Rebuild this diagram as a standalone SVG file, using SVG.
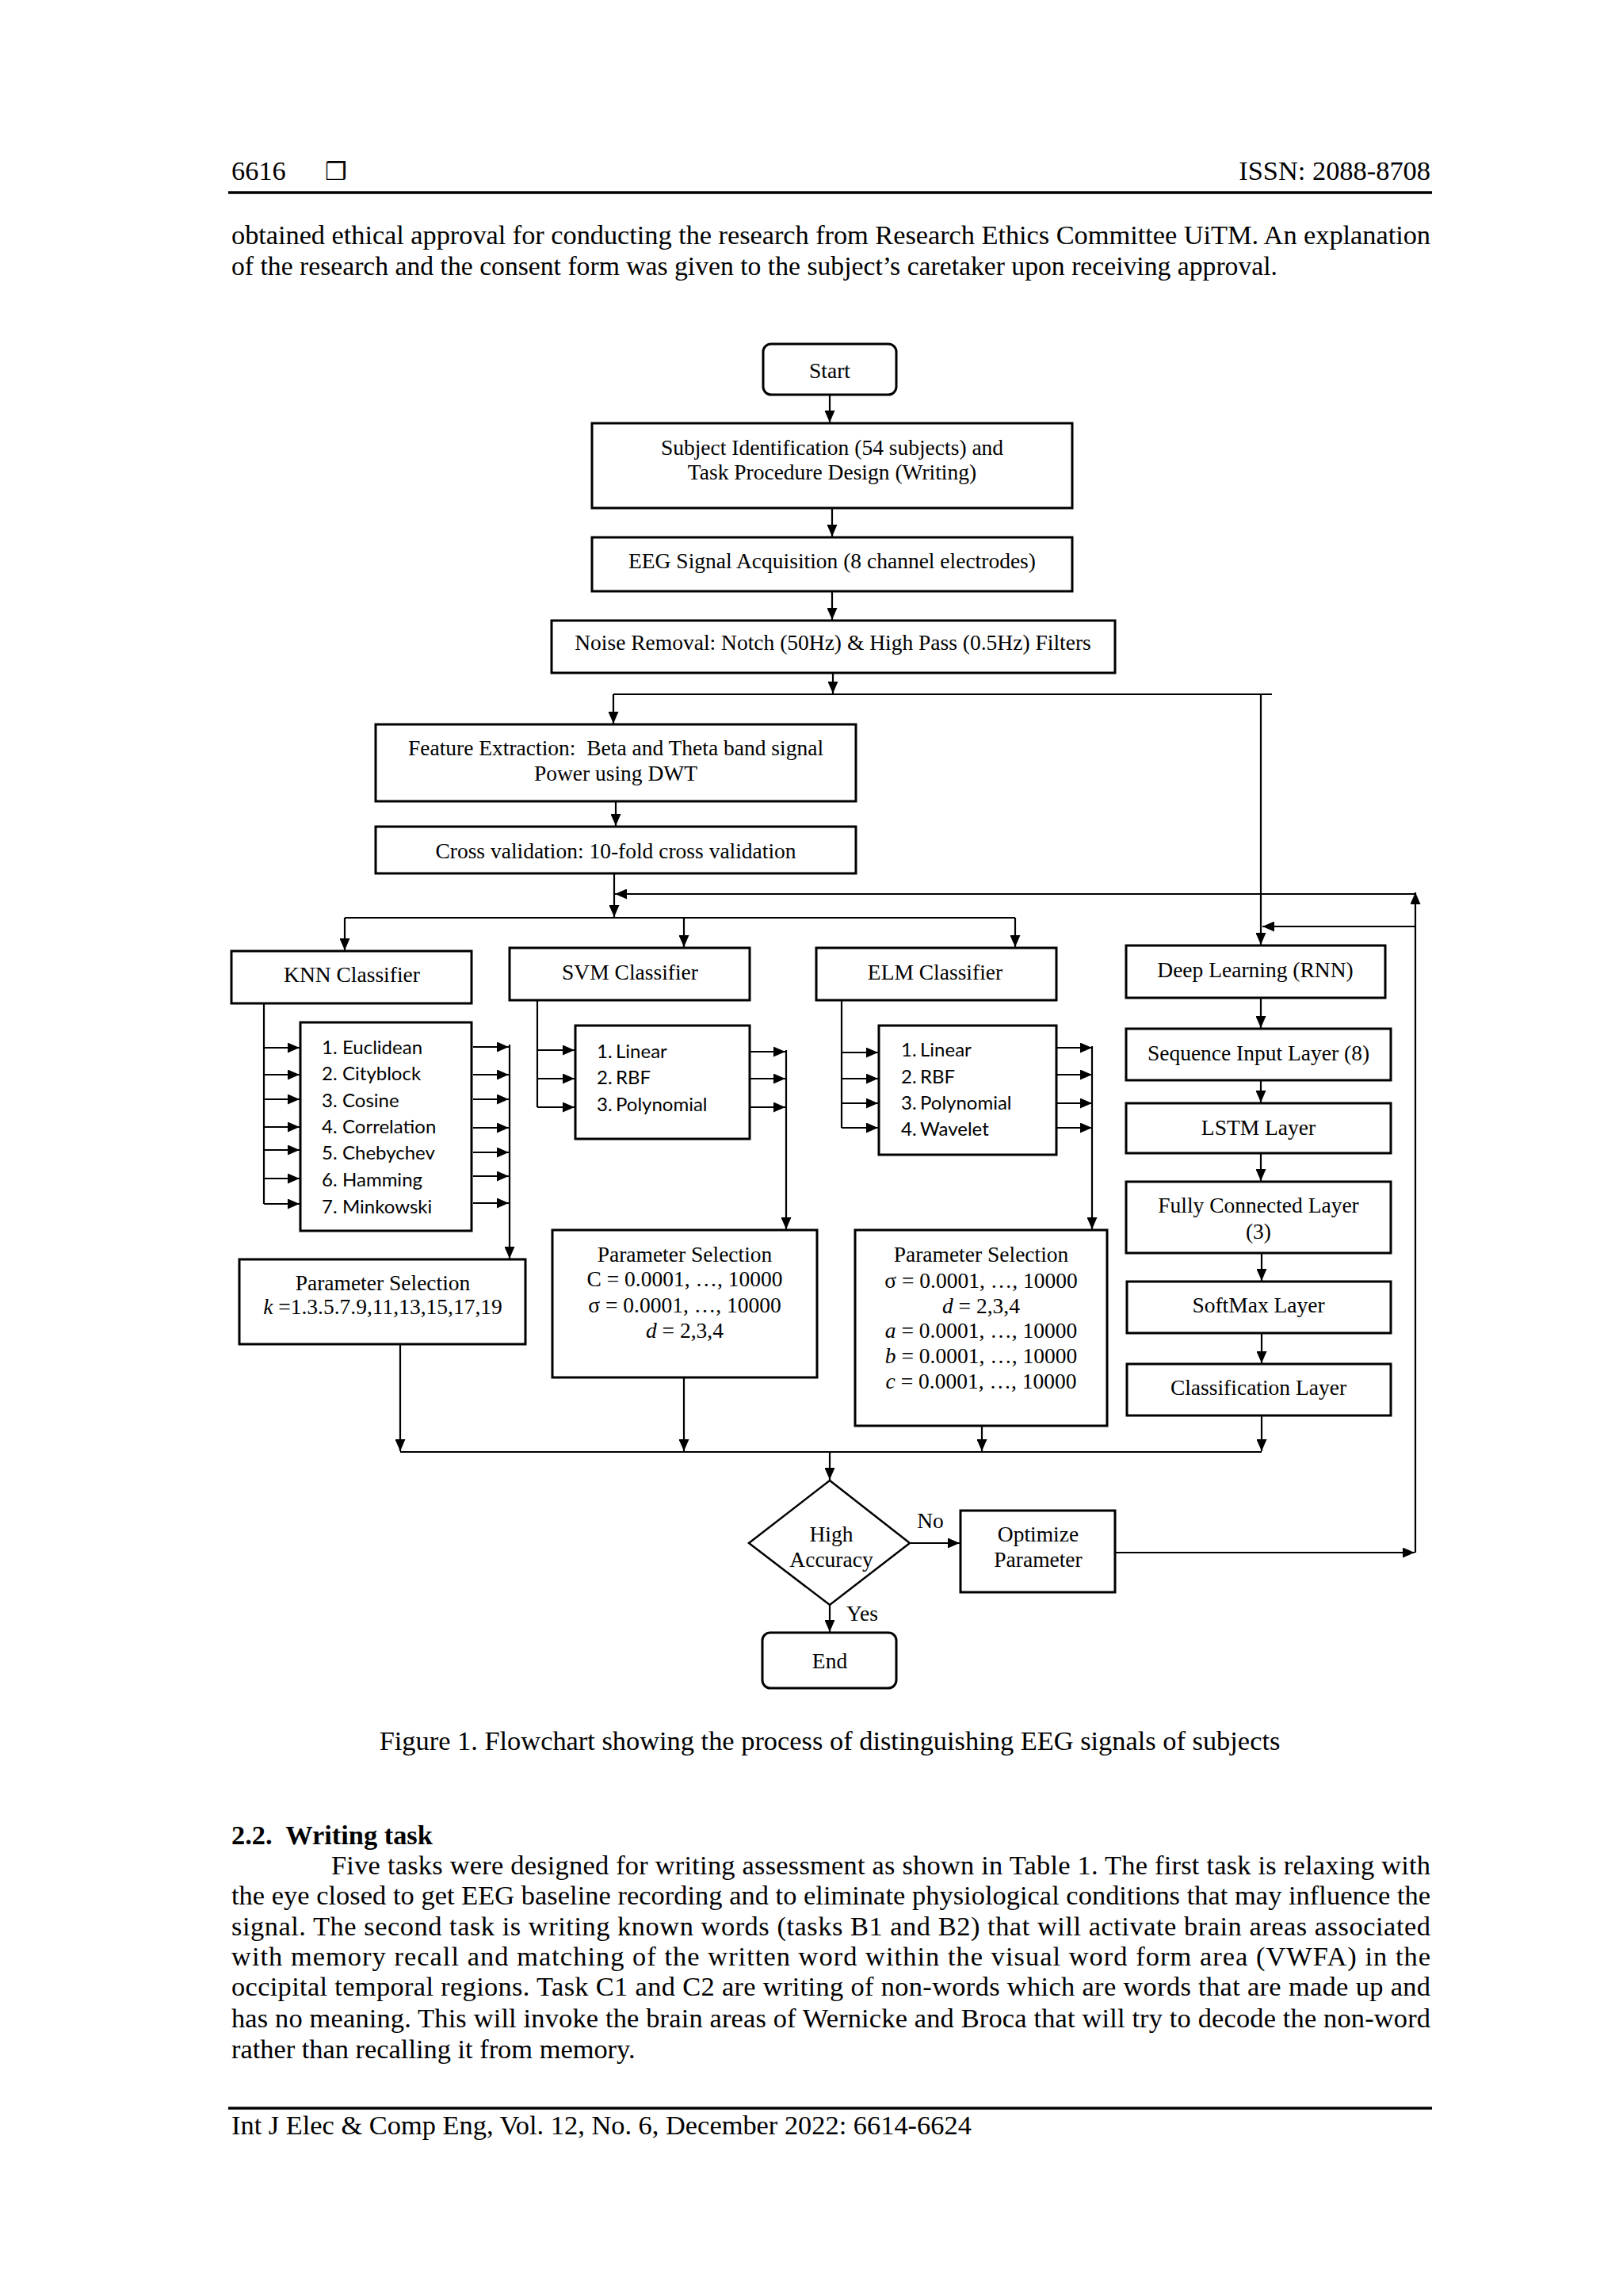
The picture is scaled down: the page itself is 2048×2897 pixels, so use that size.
<svg xmlns="http://www.w3.org/2000/svg" width="2048" height="2897" viewBox="0 0 2048 2897">
<defs>
<marker id="ah" markerUnits="userSpaceOnUse" markerWidth="15" markerHeight="13" refX="15" refY="6.5" orient="auto">
<path d="M0,0 L15,6.5 L0,13 z" fill="#000"/>
</marker>
</defs>
<style>
.pg{font-family:"Liberation Serif","Times New Roman",serif;font-size:34.4px;fill:#000}
.d{font-family:"Liberation Serif","Times New Roman",serif;font-size:27.5px;fill:#000;text-anchor:middle}
.l{font-family:Lato,"Liberation Sans",sans-serif;font-size:24px;fill:#000}
.b{fill:#fff;stroke:#000;stroke-width:3}
.c{fill:none;stroke:#000;stroke-width:2.2}
.a{fill:none;stroke:#000;stroke-width:2.2;marker-end:url(#ah)}
.rule{stroke:#000;stroke-width:3.5}
</style>
<rect width="2048" height="2897" fill="#fff"/>

<!-- page header -->
<text class="pg" x="292" y="227">6616</text>
<text x="410" y="227" style="font-family:'DejaVu Sans',sans-serif;font-size:31px;font-weight:bold">❒</text>
<text class="pg" x="1805" y="227" text-anchor="end">ISSN: 2088-8708</text>
<line class="rule" x1="288" y1="243" x2="1807" y2="243"/>
<text class="pg" x="292" y="308" textLength="1513" lengthAdjust="spacing">obtained ethical approval for conducting the research from Research Ethics Committee UiTM. An explanation</text>
<text class="pg" x="292" y="347" textLength="1320" lengthAdjust="spacingAndGlyphs">of the research and the consent form was given to the subject’s caretaker upon receiving approval.</text>

<!-- connectors -->
<g id="connectors">
<line class="a" x1="1047" y1="498" x2="1047" y2="533"/>
<line class="a" x1="1050" y1="641" x2="1050" y2="677"/>
<line class="a" x1="1050" y1="746" x2="1050" y2="782"/>
<line class="a" x1="1051" y1="849" x2="1051" y2="875"/>
<line class="c" x1="774" y1="876" x2="1605" y2="876"/>
<line class="a" x1="774" y1="876" x2="774" y2="913"/>
<line class="a" x1="777" y1="1011" x2="777" y2="1042"/>
<line class="a" x1="1591" y1="876" x2="1591" y2="1192"/>
<line class="a" x1="775" y1="1102" x2="775" y2="1157"/>
<line class="c" x1="435" y1="1158" x2="1281" y2="1158"/>
<line class="a" x1="435" y1="1158" x2="435" y2="1199"/>
<line class="a" x1="863" y1="1158" x2="863" y2="1195"/>
<line class="a" x1="1281" y1="1158" x2="1281" y2="1195"/>
<line class="a" x1="1786" y1="1128" x2="776" y2="1128"/>
<line class="a" x1="1786" y1="1169" x2="1593" y2="1169"/>
<line class="a" x1="1786" y1="1959" x2="1786" y2="1126"/>
<line class="a" x1="1407" y1="1959" x2="1785" y2="1959"/>

<!-- KNN -->
<polyline class="c" points="333,1266 333,1519"/>
<line class="a" x1="333" y1="1322" x2="378" y2="1322"/>
<line class="a" x1="333" y1="1356" x2="378" y2="1356"/>
<line class="a" x1="333" y1="1387" x2="378" y2="1387"/>
<line class="a" x1="333" y1="1422" x2="378" y2="1422"/>
<line class="a" x1="333" y1="1451" x2="378" y2="1451"/>
<line class="a" x1="333" y1="1487" x2="378" y2="1487"/>
<line class="a" x1="333" y1="1519" x2="378" y2="1519"/>
<line class="a" x1="597" y1="1321" x2="642" y2="1321"/>
<line class="a" x1="597" y1="1356" x2="642" y2="1356"/>
<line class="a" x1="597" y1="1387" x2="642" y2="1387"/>
<line class="a" x1="597" y1="1423" x2="642" y2="1423"/>
<line class="a" x1="597" y1="1454" x2="642" y2="1454"/>
<line class="a" x1="597" y1="1484" x2="642" y2="1484"/>
<line class="a" x1="597" y1="1518" x2="642" y2="1518"/>
<line class="a" x1="643" y1="1318" x2="643" y2="1588"/>

<!-- SVM -->
<polyline class="c" points="678,1262 678,1397"/>
<line class="a" x1="678" y1="1325" x2="725" y2="1325"/>
<line class="a" x1="678" y1="1361" x2="725" y2="1361"/>
<line class="a" x1="678" y1="1397" x2="725" y2="1397"/>
<line class="a" x1="947" y1="1327" x2="991" y2="1327"/>
<line class="a" x1="947" y1="1361" x2="991" y2="1361"/>
<line class="a" x1="947" y1="1397" x2="991" y2="1397"/>
<line class="a" x1="992" y1="1325" x2="992" y2="1551"/>

<!-- ELM -->
<polyline class="c" points="1062,1262 1062,1423"/>
<line class="a" x1="1062" y1="1328" x2="1108" y2="1328"/>
<line class="a" x1="1062" y1="1361" x2="1108" y2="1361"/>
<line class="a" x1="1062" y1="1392" x2="1108" y2="1392"/>
<line class="a" x1="1062" y1="1423" x2="1108" y2="1423"/>
<line class="a" x1="1334" y1="1322" x2="1378" y2="1322"/>
<line class="a" x1="1334" y1="1356" x2="1378" y2="1356"/>
<line class="a" x1="1334" y1="1392" x2="1378" y2="1392"/>
<line class="a" x1="1334" y1="1423" x2="1378" y2="1423"/>
<line class="a" x1="1378" y1="1320" x2="1378" y2="1551"/>

<!-- RNN chain -->
<line class="a" x1="1591" y1="1259" x2="1591" y2="1297"/>
<line class="a" x1="1591" y1="1363" x2="1591" y2="1391"/>
<line class="a" x1="1591" y1="1455" x2="1591" y2="1490"/>
<line class="a" x1="1592" y1="1581" x2="1592" y2="1616"/>
<line class="a" x1="1592" y1="1682" x2="1592" y2="1720"/>

<!-- merge -->
<line class="a" x1="505" y1="1696" x2="505" y2="1831"/>
<line class="a" x1="863" y1="1738" x2="863" y2="1831"/>
<line class="a" x1="1239" y1="1799" x2="1239" y2="1831"/>
<line class="a" x1="1592" y1="1786" x2="1592" y2="1831"/>
<line class="c" x1="505" y1="1832" x2="1592" y2="1832"/>
<line class="a" x1="1047" y1="1832" x2="1047" y2="1867"/>
<line class="a" x1="1148" y1="1947" x2="1211" y2="1947"/>
<line class="a" x1="1047" y1="2025" x2="1047" y2="2059"/>
</g>

<!-- nodes -->
<g id="start"><rect class="b" x="963" y="434" width="168" height="64" rx="10"/><text class="d" x="1047" y="477">Start</text></g>
<g id="subject"><rect class="b" x="747" y="534" width="606" height="107"/><text class="d" x="1050" y="574">Subject Identification (54 subjects) and</text><text class="d" x="1050" y="605">Task Procedure Design (Writing)</text></g>
<g id="eeg"><rect class="b" x="747" y="678" width="606" height="68"/><text class="d" x="1050" y="717">EEG Signal Acquisition (8 channel electrodes)</text></g>
<g id="noise"><rect class="b" x="696" y="783" width="711" height="66"/><text class="d" x="1051" y="820">Noise Removal: Notch (50Hz) &amp; High Pass (0.5Hz) Filters</text></g>
<g id="feature"><rect class="b" x="474" y="914" width="606" height="97"/><text class="d" x="777" y="953" xml:space="preserve">Feature Extraction:  Beta and Theta band signal</text><text class="d" x="777" y="985">Power using DWT</text></g>
<g id="cross"><rect class="b" x="474" y="1043" width="606" height="59"/><text class="d" x="777" y="1083">Cross validation: 10-fold cross validation</text></g>

<g id="knn"><rect class="b" x="292" y="1200" width="303" height="66"/><text class="d" x="444" y="1239">KNN Classifier</text></g>
<g id="knn-list"><rect class="b" x="379" y="1290" width="216" height="263"/>
<text class="l" y="1330"><tspan x="406">1.</tspan><tspan x="432">Euclidean</tspan></text>
<text class="l" y="1363"><tspan x="406">2.</tspan><tspan x="432">Cityblock</tspan></text>
<text class="l" y="1397"><tspan x="406">3.</tspan><tspan x="432">Cosine</tspan></text>
<text class="l" y="1430"><tspan x="406">4.</tspan><tspan x="432">Correlation</tspan></text>
<text class="l" y="1463"><tspan x="406">5.</tspan><tspan x="432">Chebychev</tspan></text>
<text class="l" y="1497"><tspan x="406">6.</tspan><tspan x="432">Hamming</tspan></text>
<text class="l" y="1531"><tspan x="406">7.</tspan><tspan x="432">Minkowski</tspan></text>
</g>
<g id="knn-param"><rect class="b" x="302" y="1589" width="361" height="107"/><text class="d" x="483" y="1628">Parameter Selection</text><text class="d" x="483" y="1658"><tspan font-style="italic">k</tspan> =1.3.5.7.9,11,13,15,17,19</text></g>

<g id="svm"><rect class="b" x="643" y="1196" width="303" height="66"/><text class="d" x="795" y="1236">SVM Classifier</text></g>
<g id="svm-list"><rect class="b" x="726" y="1294" width="220" height="143"/>
<text class="l" y="1335"><tspan x="753">1.</tspan><tspan x="777">Linear</tspan></text>
<text class="l" y="1368"><tspan x="753">2.</tspan><tspan x="777">RBF</tspan></text>
<text class="l" y="1402"><tspan x="753">3.</tspan><tspan x="777">Polynomial</tspan></text>
</g>
<g id="svm-param"><rect class="b" x="697" y="1552" width="334" height="186"/><text class="d" x="864" y="1592">Parameter Selection</text><text class="d" x="864" y="1623">C = 0.0001, …, 10000</text><text class="d" x="864" y="1656">σ = 0.0001, …, 10000</text><text class="d" x="864" y="1688"><tspan font-style="italic">d</tspan> = 2,3,4</text></g>

<g id="elm"><rect class="b" x="1030" y="1196" width="303" height="66"/><text class="d" x="1180" y="1236">ELM Classifier</text></g>
<g id="elm-list"><rect class="b" x="1109" y="1294" width="224" height="163"/>
<text class="l" y="1333"><tspan x="1137">1.</tspan><tspan x="1161">Linear</tspan></text>
<text class="l" y="1367"><tspan x="1137">2.</tspan><tspan x="1161">RBF</tspan></text>
<text class="l" y="1400"><tspan x="1137">3.</tspan><tspan x="1161">Polynomial</tspan></text>
<text class="l" y="1433"><tspan x="1137">4.</tspan><tspan x="1161">Wavelet</tspan></text>
</g>
<g id="elm-param"><rect class="b" x="1079" y="1552" width="318" height="247"/><text class="d" x="1238" y="1592">Parameter Selection</text><text class="d" x="1238" y="1625">σ = 0.0001, …, 10000</text><text class="d" x="1238" y="1657"><tspan font-style="italic">d</tspan> = 2,3,4</text><text class="d" x="1238" y="1688"><tspan font-style="italic">a</tspan> = 0.0001, …, 10000</text><text class="d" x="1238" y="1720"><tspan font-style="italic">b</tspan> = 0.0001, …, 10000</text><text class="d" x="1238" y="1752"><tspan font-style="italic">c</tspan> = 0.0001, …, 10000</text></g>

<g id="rnn"><rect class="b" x="1421" y="1193" width="327" height="66"/><text class="d" x="1584" y="1233">Deep Learning (RNN)</text></g>
<g id="seq"><rect class="b" x="1421" y="1298" width="334" height="65"/><text class="d" x="1588" y="1338">Sequence Input Layer (8)</text></g>
<g id="lstm"><rect class="b" x="1421" y="1392" width="334" height="63"/><text class="d" x="1588" y="1432">LSTM Layer</text></g>
<g id="fc"><rect class="b" x="1421" y="1491" width="334" height="90"/><text class="d" x="1588" y="1530">Fully Connected Layer</text><text class="d" x="1588" y="1563">(3)</text></g>
<g id="softmax"><rect class="b" x="1422" y="1617" width="333" height="65"/><text class="d" x="1588" y="1656">SoftMax Layer</text></g>
<g id="classif"><rect class="b" x="1422" y="1721" width="333" height="65"/><text class="d" x="1588" y="1760">Classification Layer</text></g>

<g id="decision"><polygon points="1047,1868 1148,1947 1047,2025 945,1947" fill="#fff" stroke="#000" stroke-width="2.5"/><text class="d" x="1049" y="1945">High</text><text class="d" x="1049" y="1977">Accuracy</text></g>
<text class="d" x="1174" y="1928">No</text>
<text class="d" x="1088" y="2045">Yes</text>
<g id="optimize"><rect class="b" x="1212" y="1906" width="195" height="103"/><text class="d" x="1310" y="1945">Optimize</text><text class="d" x="1310" y="1977">Parameter</text></g>
<g id="end"><rect class="b" x="962" y="2060" width="169" height="70" rx="10"/><text class="d" x="1047" y="2105">End</text></g>

<!-- caption and body -->
<text class="pg" x="1047" y="2208" text-anchor="middle">Figure 1. Flowchart showing the process of distinguishing EEG signals of subjects</text>
<text class="pg" x="292" y="2327" font-weight="bold" xml:space="preserve">2.2.  Writing task</text>
<text class="pg" x="418" y="2365" textLength="1387" lengthAdjust="spacing">Five tasks were designed for writing assessment as shown in Table 1. The first task is relaxing with</text>
<text class="pg" x="292" y="2403" textLength="1513" lengthAdjust="spacing">the eye closed to get EEG baseline recording and to eliminate physiological conditions that may influence the</text>
<text class="pg" x="292" y="2442" textLength="1513" lengthAdjust="spacing">signal. The second task is writing known words (tasks B1 and B2) that will activate brain areas associated</text>
<text class="pg" x="292" y="2480" textLength="1513" lengthAdjust="spacing">with memory recall and matching of the written word within the visual word form area (VWFA) in the</text>
<text class="pg" x="292" y="2518" textLength="1513" lengthAdjust="spacing">occipital temporal regions. Task C1 and C2 are writing of non-words which are words that are made up and</text>
<text class="pg" x="292" y="2558" textLength="1513" lengthAdjust="spacing">has no meaning. This will invoke the brain areas of Wernicke and Broca that will try to decode the non-word</text>
<text class="pg" x="292" y="2597">rather than recalling it from memory.</text>

<line class="rule" x1="288" y1="2660" x2="1807" y2="2660"/>
<text class="pg" x="292" y="2693">Int J Elec &amp; Comp Eng, Vol. 12, No. 6, December 2022: 6614-6624</text>
</svg>
